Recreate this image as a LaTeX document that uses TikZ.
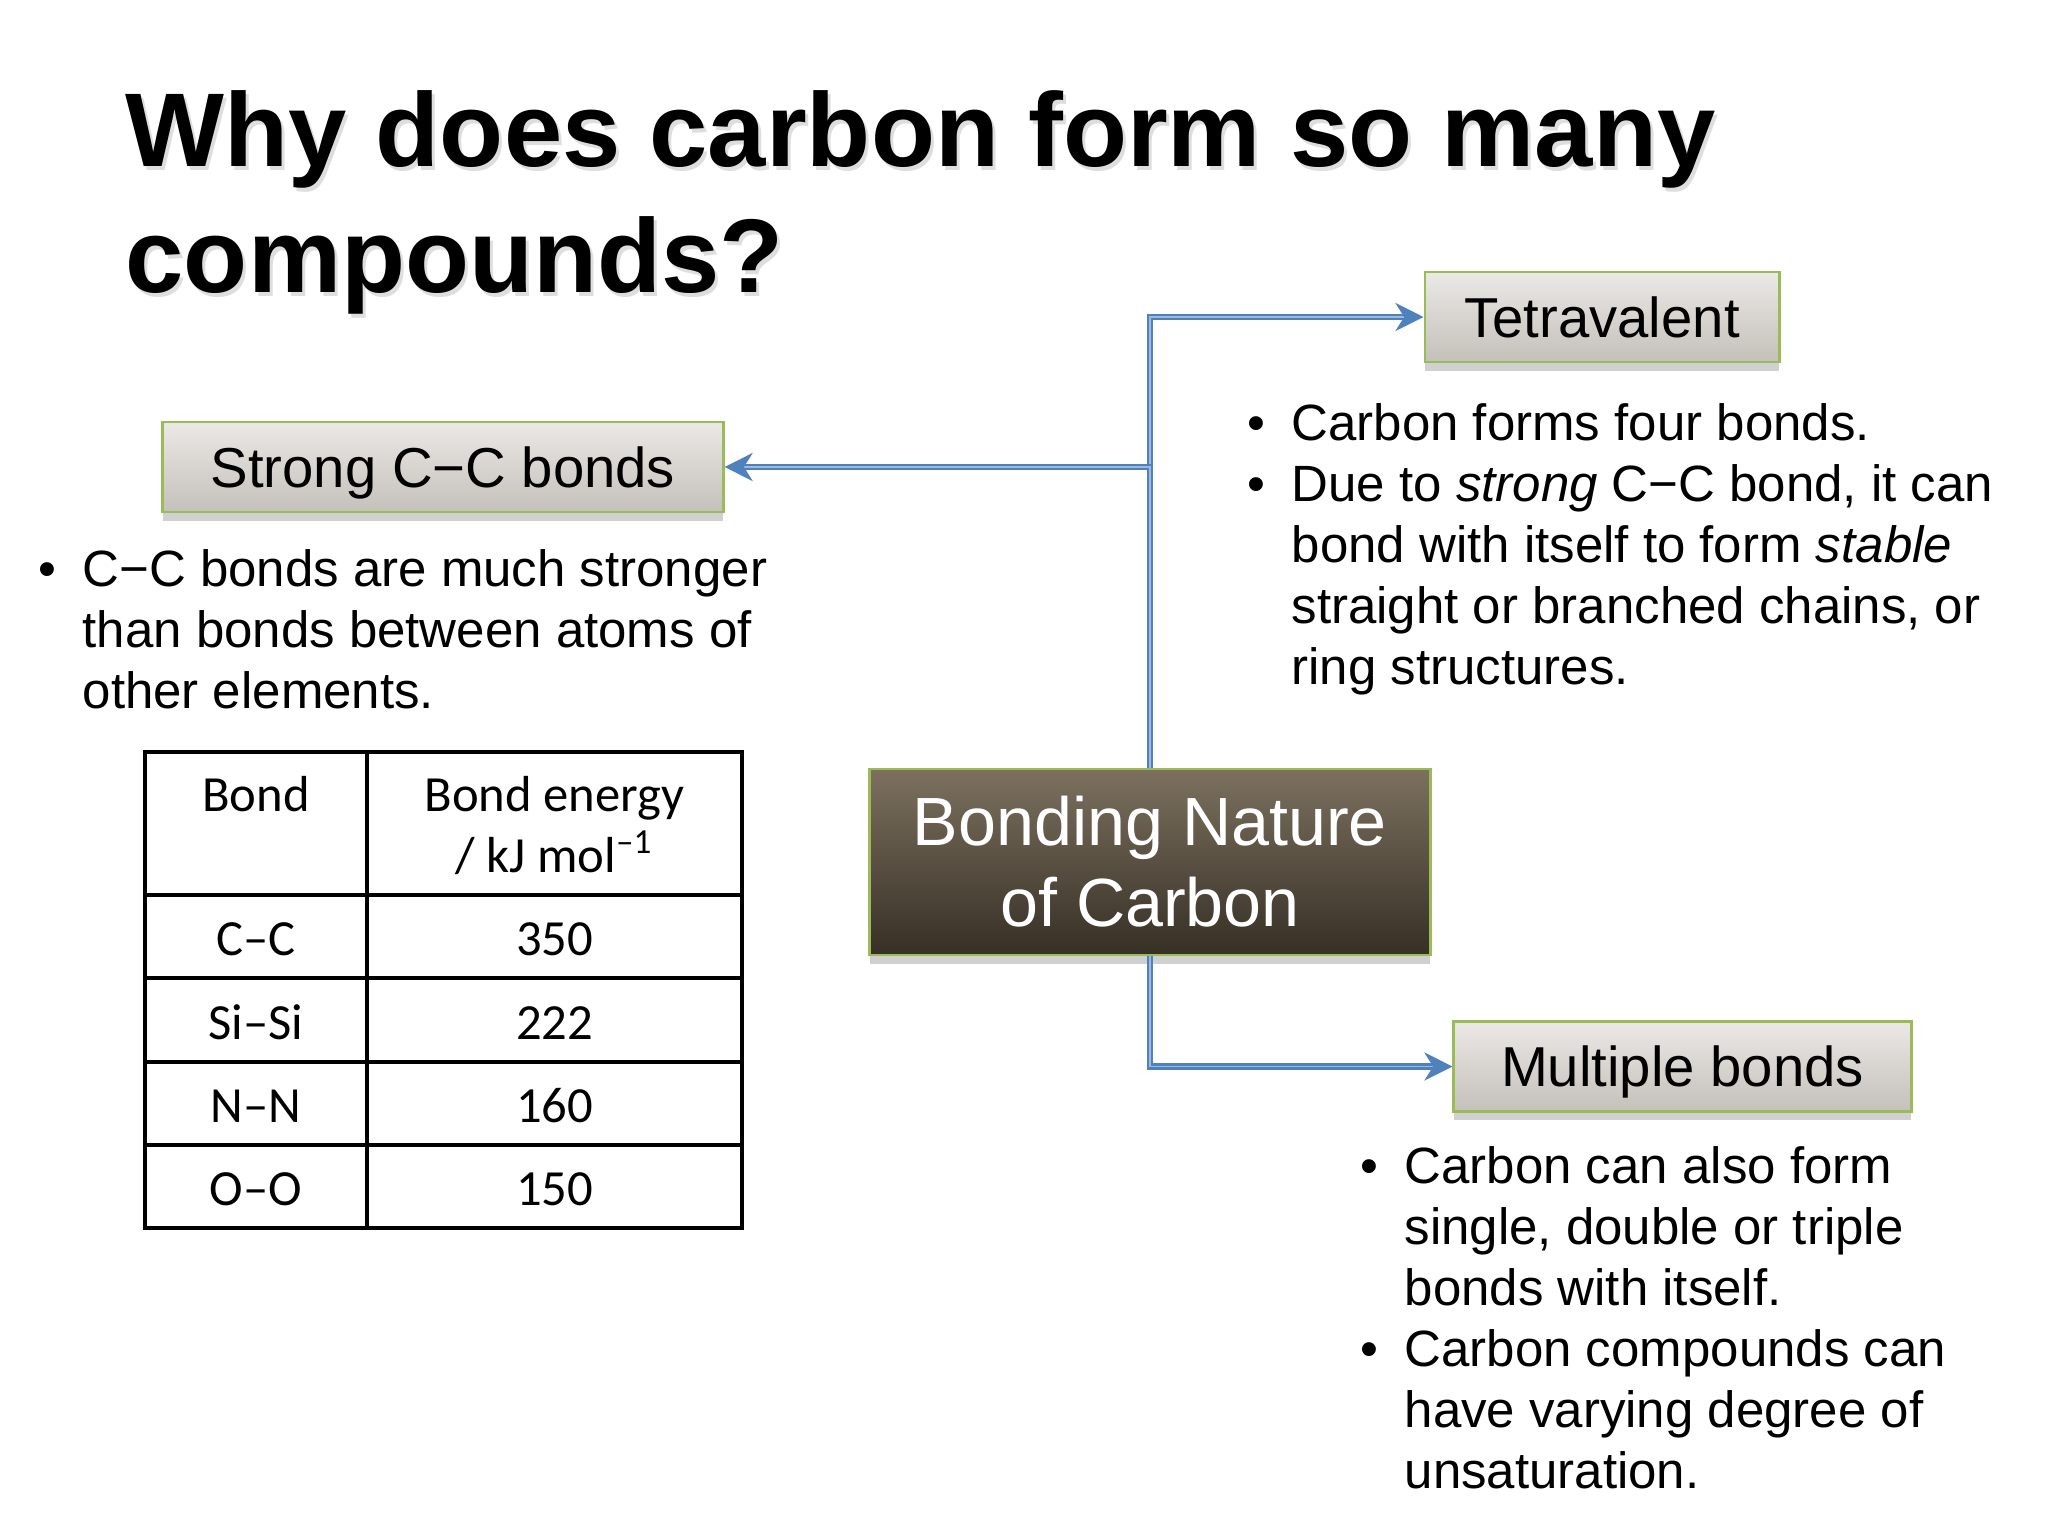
\documentclass[tikz,border=0pt]{standalone}
\usepackage{fontspec}
\setmainfont{Liberation Sans}
\newfontfamily\tabfont{Carlito}
\usetikzlibrary{arrows.meta,shadows}
\definecolor{linkblue}{RGB}{79,129,189}
\definecolor{boxgreen}{RGB}{155,187,89}
\definecolor{greytop}{RGB}{235,233,230}
\definecolor{greybot}{RGB}{196,192,186}
\definecolor{browntop}{RGB}{124,113,95}
\definecolor{brownbot}{RGB}{54,47,37}
\newcommand{\bul}{\makebox[12.5pt][l]{•}}
\tikzset{
  boxshadow/.style={drop shadow={shadow xshift=0pt,shadow yshift=-2.5pt,opacity=.3,fill=black!60}},
  bodytext/.style={anchor=base west,inner sep=0,font=\fontsize{14.5}{17.36}\selectfont}
}
\begin{document}
\begin{tikzpicture}[x=0.01cm,y=-0.01cm]
  \useasboundingbox[fill=white] (0,0) rectangle (2048,1536);

  \node (titleshadow) [anchor=base west,inner sep=0,text=black!13,font=\fontsize{29.8}{36.1}\selectfont\bfseries] at (128,170)
    {\begin{tabular}[t]{@{}l@{}}Why does carbon form so many\\compounds?\end{tabular}};
  \node (title) [anchor=base west,inner sep=0,font=\fontsize{29.8}{36.1}\selectfont\bfseries] at (125,166)
    {\begin{tabular}[t]{@{}l@{}}Why does carbon form so many\\compounds?\end{tabular}};

  \begin{scope}[every node/.style={draw=boxgreen,line width=0.8pt,top color=greytop,bottom color=greybot,
      font=\fontsize{16}{19}\selectfont,text depth=0pt,minimum height=0.9cm,inner sep=0,boxshadow}]
    \node (strong) [minimum width=5.6cm]  at (443,467)     {Strong C−C bonds};
    \node (tetra)  [minimum width=3.54cm] at (1602,317)    {Tetravalent};
    \node (multi)  [minimum width=4.57cm] at (1682.5,1066.5) {Multiple bonds};
  \end{scope}

  \node (core) [draw=boxgreen,line width=0.8pt,top color=browntop,bottom color=brownbot,text=white,
      minimum width=5.6cm,minimum height=1.86cm,inner sep=0,align=center,
      font=\fontsize{19.4}{23.05}\selectfont,boxshadow] at (1150,862) {Bonding Nature\\of Carbon};

  \begin{scope}[every edge/.style={draw=linkblue,line width=0.7pt,double=linkblue!55,double distance=0.45pt,
      -{Stealth[length=8pt,width=8pt,inset=2.5pt]},to path={|- (\tikztotarget)}}]
    \path (core.north) edge (tetra.west);
    \path (core.north) edge (strong.east);
    \path (core.south) edge (multi.west);
  \end{scope}

  \node (cctext) [bodytext] at (38,586)
    {\begin{tabular}[t]{@{}l@{}l@{}}\bul&C−C bonds are much stronger\\&than bonds between atoms of\\&other elements.\end{tabular}};
  \node (tetratext) [bodytext] at (1247,440)
    {\begin{tabular}[t]{@{}l@{}l@{}}\bul&Carbon forms four bonds.\\\bul&Due to \textit{strong} C−C bond, it can\\&bond with itself to form \textit{stable}\\&straight or branched chains, or\\&ring structures.\end{tabular}};
  \node (multitext) [bodytext] at (1360,1183)
    {\begin{tabular}[t]{@{}l@{}l@{}}\bul&Carbon can also form\\&single, double or triple\\&bonds with itself.\\\bul&Carbon compounds can\\&have varying degree of\\&unsaturation.\end{tabular}};

  \draw[line width=1pt] (145,752) rectangle (742,1228);
  \draw[line width=1pt] (367,752) -- (367,1228);
  \foreach \y in {895,978,1062,1145}
    \draw[line width=1pt] (145,\y) -- (742,\y);

  \begin{scope}[every node/.style={anchor=base,inner sep=0,font=\tabfont\fontsize{14.4}{17.4}\selectfont}]
    \node (bondhead)   at (256,811)   {Bond};
    \node (energyhead) at (554.5,811) {\begin{tabular}[t]{@{}c@{}}Bond energy\\/ kJ mol\textsuperscript{–1}\end{tabular}};
    \foreach \b/\e/\y [count=\i] in {C–C/350/955,Si–Si/222/1039,N–N/160/1122,O–O/150/1205}{
      \node (bond\i)   at (256,\y)   {\b};
      \node (energy\i) at (554.5,\y) {\e};
    }
  \end{scope}
\end{tikzpicture}
\end{document}
